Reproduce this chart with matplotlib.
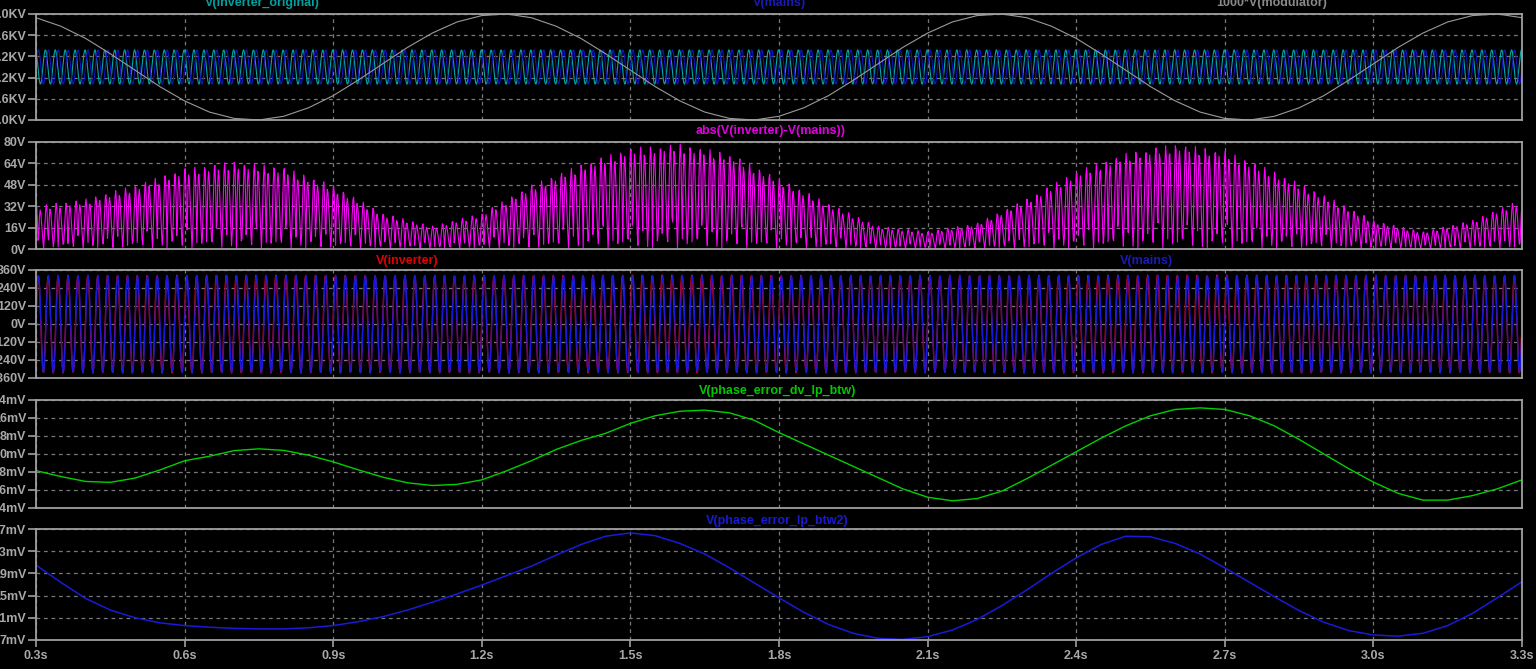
import numpy as np
import matplotlib.pyplot as plt

plt.rcParams['font.family'] = ['Liberation Sans', 'DejaVu Sans']
plt.rcParams['font.weight'] = 'bold'

W, H = 1536, 669

# ---- data ----
# slow traces sampled every 50 ms from 0.3 s to 3.3 s
t_slow = np.round(np.arange(0.30, 3.301, 0.05), 2)

# 1000*V(modulator) in kV
modulator = [0.93, 0.77, 0.54, 0.25, -0.06, -0.37, -0.64, -0.85, -0.97, -1.00,
             -0.93, -0.77, -0.54, -0.25, 0.06, 0.37, 0.64, 0.85, 0.97, 1.00,
             0.93, 0.77, 0.54, 0.25, -0.06, -0.37, -0.64, -0.85, -0.97, -1.00,
             -0.93, -0.77, -0.54, -0.25, 0.06, 0.37, 0.64, 0.85, 0.97, 1.00,
             0.93, 0.77, 0.54, 0.25, -0.06, -0.37, -0.64, -0.85, -0.97, -1.00,
             -0.93, -0.77, -0.54, -0.25, 0.06, 0.37, 0.64, 0.85, 0.97, 1.00,
             0.93]

# V(phase_error_dv_lp_btw) in mV
phase_err_dv = [-7.4, -10.0, -12.2, -12.6, -10.7, -7.1, -3.0, -1.0, 1.5, 2.3,
                1.6, -0.5, -3.5, -7.0, -10.3, -12.8, -14.0, -13.5, -11.5, -7.5,
                -3.0, 2.0, 6.0, 9.2, 13.6, 17.0, 19.0, 19.5, 18.3, 15.0,
                9.5, 4.5, -0.5, -5.5, -10.5, -15.5, -19.2, -20.8, -19.8, -16.5,
                -11.0, -5.0, 1.0, 7.0, 12.5, 17.0, 19.8, 20.5, 19.8, 17.0,
                12.5, 6.5, 0.0, -6.5, -12.5, -17.5, -20.5, -20.5, -18.5, -15.5,
                -11.5]

# V(phase_error_lp_btw2) in mV
phase_err_lp = [20.5, 17.4, 14.5, 12.4, 11.0, 10.1, 9.6, 9.3, 9.1, 9.0,
                9.0, 9.2, 9.6, 10.3, 11.2, 12.4, 13.8, 15.3, 16.9, 18.6,
                20.3, 22.3, 24.2, 25.7, 26.3, 25.8, 24.4, 22.5, 20.0, 17.3,
                14.6, 12.0, 9.8, 8.2, 7.3, 7.1, 7.6, 8.8, 10.7, 13.2,
                16.0, 19.0, 21.8, 24.2, 25.7, 25.6, 24.4, 22.5, 20.0, 17.4,
                14.8, 12.3, 10.2, 8.7, 7.9, 7.7, 8.2, 9.6, 11.8, 14.6,
                17.5]

# peak of abs(V(inverter)-V(mains)) every 100 ms, in V
t_env = np.round(np.arange(0.3, 3.301, 0.1), 1)
diff_env = [30, 35, 45, 57, 62, 58, 45, 25, 16, 25,
            45, 60, 72, 75, 68, 50, 32, 16, 12, 18,
            35, 55, 68, 75, 70, 55, 38, 20, 12, 20, 35]

f_mains = 50.0      # Hz
v_peak = 325.0      # V
step = 0.0014       # simulator output step, s
h2 = 0.25           # second-harmonic share of the difference

# ---- traces ----
t = np.arange(0.3, 3.3, step)
theta = 2 * np.pi * f_mains * t
env = np.interp(t, t_env, diff_env) / 1.08
phi = 2 * np.arcsin(env / (2 * v_peak))
mains = v_peak * np.sin(theta)
inverter = v_peak * np.sin(theta + phi) + h2 * env * np.sin(2 * theta + 0.4)
inverter_orig = v_peak * np.sin(theta + 1.9)

# ---- styling ----
bg = 'black'
frame_c = '#a0a0a0'
grid_c = '#787878'
tick_c = '#a8a8a8'
fs = 9

fig = plt.figure(figsize=(W / 100, H / 100), dpi=100, facecolor=bg)

x0, x1 = 36, 1522
panes = [(14, 120), (142, 249), (270, 378), (400, 508), (529, 640)]
xticks = [0.3, 0.6, 0.9, 1.2, 1.5, 1.8, 2.1, 2.4, 2.7, 3.0, 3.3]


def make_ax(top, bot, last=False):
    ax = fig.add_axes([x0 / W, 1 - bot / H, (x1 - x0) / W, (bot - top) / H])
    ax.set_facecolor(bg)
    for s in ax.spines.values():
        s.set_color(frame_c)
        s.set_linewidth(1.3)
    ax.set_xlim(0.3, 3.3)
    ax.set_xticks(xticks)
    ax.grid(True, color=grid_c, ls=(0, (3, 3)), lw=0.9)
    ax.tick_params(axis='y', colors=frame_c, labelcolor=tick_c, length=5.5,
                   width=1.2, pad=1.5, labelsize=fs)
    if last:
        ax.set_xticklabels(['%.1fs' % v for v in xticks])
        ax.tick_params(axis='x', colors=frame_c, labelcolor=tick_c, length=5,
                       width=1.2, pad=2, labelsize=fs)
    else:
        ax.tick_params(axis='x', length=0, labelbottom=False)
    return ax


def title(x, y, s, color):
    fig.text(x / W, 1 - y / H, s, color=color, ha='center', va='center',
             fontsize=fs, fontweight='bold')


# pane 1
ax = make_ax(*panes[0])
ax.plot(t, inverter_orig / 1000, color='#00a8a8', lw=0.8)
ax.plot(t, mains / 1000, color='#1414c0', lw=0.8)
ax.plot(t_slow, modulator, color='#9a9a9a', lw=0.8)
ax.set_ylim(-1.0, 1.0)
ax.set_yticks([1.0, 0.6, 0.2, -0.2, -0.6, -1.0])
ax.set_yticklabels(['1.0KV', '0.6KV', '0.2KV', '-0.2KV', '-0.6KV', '-1.0KV'])
title(262, 3, 'V(inverter_original)', '#00a0a0')
title(779, 3, 'V(mains)', '#1a1ab4')
title(1272, 3, '1000*V(modulator)', '#8a8a8a')

# pane 2
ax = make_ax(*panes[1])
ax.plot(t, np.abs(inverter - mains), color='#ff00ff', lw=0.8)
ax.set_ylim(0, 80)
ax.set_yticks([80, 64, 48, 32, 16, 0])
ax.set_yticklabels(['80V', '64V', '48V', '32V', '16V', '0V'])
title(771, 131, 'abs(V(inverter)-V(mains))', '#e000e0')

# pane 3
ax = make_ax(*panes[2])
ax.plot(t, inverter, color='#ff0000', lw=0.95)
ax.plot(t, mains, color='#1818d8', lw=1.0)
ax.set_ylim(-360, 360)
ax.set_yticks([360, 240, 120, 0, -120, -240, -360])
ax.set_yticklabels(['360V', '240V', '120V', '0V', '-120V', '-240V', '-360V'])
title(407, 261, 'V(inverter)', '#e00000')
title(1146, 261, 'V(mains)', '#1a1ab4')

# pane 4
ax = make_ax(*panes[3])
ax.plot(t_slow, phase_err_dv, color='#00d000', lw=1.0)
ax.set_ylim(-24, 24)
ax.set_yticks([24, 16, 8, 0, -8, -16, -24])
ax.set_yticklabels(['24mV', '16mV', '8mV', '0mV', '-8mV', '-16mV', '-24mV'])
title(778, 391, 'V(phase_error_dv_lp_btw)', '#00c800')

# pane 5
ax = make_ax(*panes[4], last=True)
ax.plot(t_slow, phase_err_lp, color='#1a1ad8', lw=1.1)
ax.set_ylim(7, 27)
ax.set_yticks([27, 23, 19, 15, 11, 7])
ax.set_yticklabels(['27mV', '23mV', '19mV', '15mV', '11mV', '7mV'])
title(777, 521, 'V(phase_error_lp_btw2)', '#1a1ad0')

fig.savefig('out.png', dpi=100, facecolor=bg)
